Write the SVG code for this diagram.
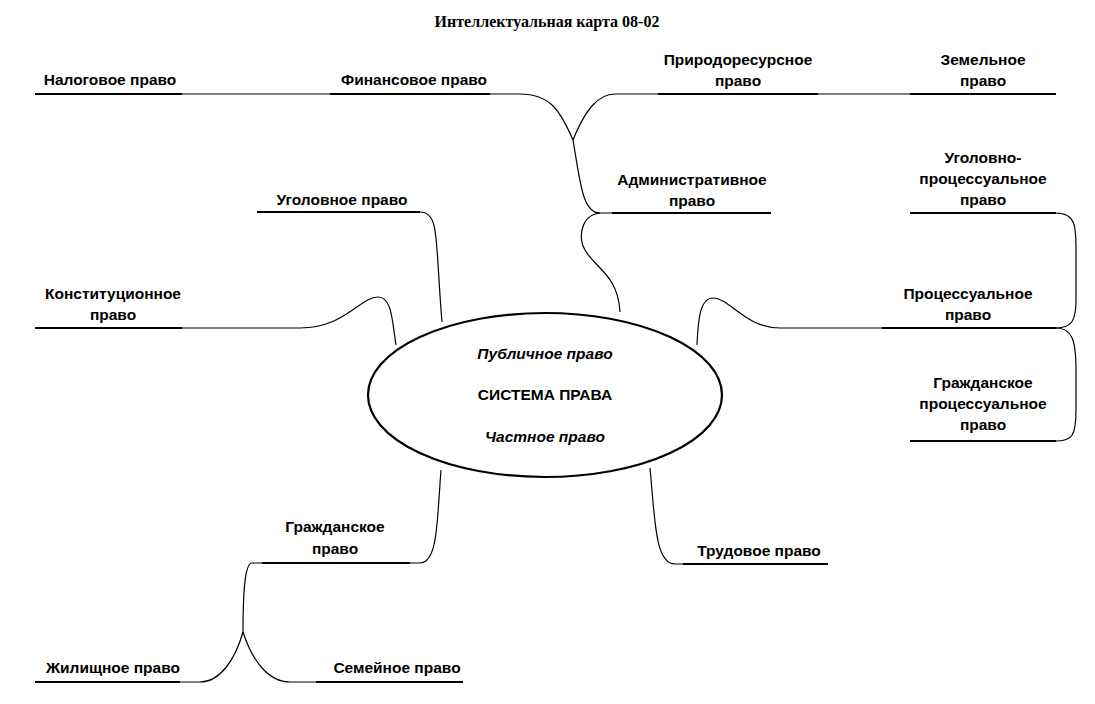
<svg xmlns="http://www.w3.org/2000/svg" width="1095" height="704" viewBox="0 0 1095 704">
<style>
text{font-family:"Liberation Sans",Arial,sans-serif;font-weight:bold;font-size:15.5px;text-anchor:middle;fill:#000}
.u{stroke:#000;stroke-width:2.2;fill:none}
.c{stroke:#000;stroke-width:1.2;fill:none}
.t{font-family:"Liberation Serif","Times New Roman",serif;font-size:16px}
.i{font-style:italic}
</style>
<rect width="1095" height="704" fill="#fff"/>
<text class="t" x="547" y="27">Интеллектуальная карта 08-02</text>
<g id="connectors">
<path class="c" d="M182 94 H330"/>
<path class="c" d="M490 94 H520 C550 94 560 110 573 140"/>
<path class="c" d="M658 94 H615 C598 94 585 110 573 140"/>
<path class="c" d="M818 94 H910"/>
<path class="c" d="M573 140 C580 180 582 213 600 213 H612"/>
<path class="c" d="M600 213 C580 215 578 240 585 250 C595 268 618 275 620 312"/>
<path class="c" d="M420 212 C440 212 435 240 442 322"/>
<path class="c" d="M182 328 H300 C345 328 360 297 378 297 C392 297 392 320 396 345"/>
<path class="c" d="M882 328 H780 C745 328 730 298 713 298 C700 298 698 320 697 345"/>
<path class="c" d="M1056 213 C1078 213 1076 230 1076 260 V300 C1076 320 1072 328 1056 328"/>
<path class="c" d="M1056 328 C1072 328 1076 340 1076 370 V410 C1076 436 1072 441 1056 441"/>
<path class="c" d="M441 470 C437 520 438 563 420 563 H410"/>
<path class="c" d="M262 563 H252 C244 563 243 600 243 632"/>
<path class="c" d="M243 632 C235 660 220 682 200 682 H180"/>
<path class="c" d="M243 632 C252 660 268 682 290 682 H316"/>
<path class="c" d="M650 468 C655 520 655 564 675 564 H683"/>
</g>
<g id="center"><ellipse cx="545" cy="395" rx="177" ry="82" fill="none" stroke="#000" stroke-width="2.2"/>
<text class="i" x="545" y="359">Публичное право</text>
<text x="545" y="400">СИСТЕМА ПРАВА</text>
<text class="i" x="545" y="442">Частное право</text></g>
<g id="n1"><text x="110" y="85">Налоговое право</text><path class="u" d="M35 94 H182"/></g>
<g id="n2"><text x="414" y="85">Финансовое право</text><path class="u" d="M330 94 H490"/></g>
<g id="n3"><text x="738" y="65">Природоресурсное</text><text x="738" y="86">право</text><path class="u" d="M658 94 H818"/></g>
<g id="n4"><text x="983" y="65">Земельное</text><text x="983" y="86">право</text><path class="u" d="M910 94 H1056"/></g>
<g id="n5"><text x="692" y="185">Административное</text><text x="692" y="206">право</text><path class="u" d="M612 213 H771"/></g>
<g id="n6"><text x="342" y="205">Уголовное право</text><path class="u" d="M257 212 H420"/></g>
<g id="n7"><text x="983" y="163">Уголовно-</text><text x="983" y="184">процессуальное</text><text x="983" y="205">право</text><path class="u" d="M910 213 H1056"/></g>
<g id="n8"><text x="113" y="299">Конституционное</text><text x="113" y="320">право</text><path class="u" d="M35 328 H182"/></g>
<g id="n9"><text x="968" y="299">Процессуальное</text><text x="968" y="320">право</text><path class="u" d="M882 328 H1056"/></g>
<g id="n10"><text x="983" y="388">Гражданское</text><text x="983" y="409">процессуальное</text><text x="983" y="430">право</text><path class="u" d="M910 441 H1056"/></g>
<g id="n11"><text x="335" y="532">Гражданское</text><text x="335" y="554">право</text><path class="u" d="M262 563 H410"/></g>
<g id="n12"><text x="759" y="556">Трудовое право</text><path class="u" d="M683 564 H828"/></g>
<g id="n13"><text x="113" y="673">Жилищное право</text><path class="u" d="M35 682 H180"/></g>
<g id="n14"><text x="397" y="673">Семейное право</text><path class="u" d="M316 682 H463"/></g>
</svg>
